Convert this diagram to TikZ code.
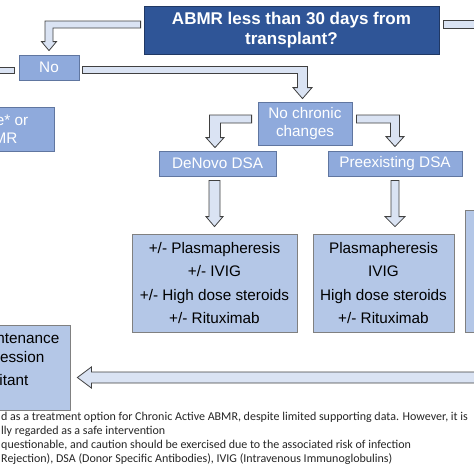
\documentclass[tikz,border=0pt]{standalone}
\usepackage{fontspec}
\setmainfont{Liberation Sans}
\newfontfamily\notefont{Carlito}
\usetikzlibrary{calc,positioning}

\definecolor{darkblue}{RGB}{47,85,151}
\definecolor{darkline}{RGB}{32,56,100}
\definecolor{midblue}{RGB}{143,170,220}
\definecolor{midline}{RGB}{96,118,160}
\definecolor{paleblue}{RGB}{180,199,231}
\definecolor{paleline}{RGB}{128,128,128}
\definecolor{arrowfill}{RGB}{218,227,243}
\definecolor{arrowline}{RGB}{64,64,64}
\definecolor{notegray}{RGB}{38,38,38}

\tikzset{
	qbox/.style={fill=darkblue, draw=darkline, line width=0.8pt, text=white, align=center, inner sep=0pt, font=\bfseries\fontsize{17}{20}\selectfont},
	midbox/.style={fill=midblue, draw=midline, line width=0.8pt, text=white, align=center, inner sep=0pt, font=\fontsize{15.3}{18}\selectfont},
	palebox/.style={fill=paleblue, draw=paleline, line width=0.8pt, text=black, align=center, inner sep=0pt, font=\fontsize{15.3}{23.3}\selectfont},
	bigarrow/.style={fill=arrowfill, draw=arrowline, line width=0.8pt, line join=miter},
	note/.style={align=left, inner sep=0pt, text=notegray, font=\notefont\fontsize{12}{14.1}\selectfont},
}

\begin{document}
\begin{tikzpicture}[x=1pt,y=-1pt]
			
			\clip (0,0) rectangle (474,474);
			\fill[white] (0,0) rectangle (474,474);
			
			% question and first split
			\node[qbox, minimum width=295pt, minimum height=48pt] (q30) at (291.5,30) {ABMR less than 30 days from\\transplant?};
			\node[midbox, minimum width=60pt, minimum height=25pt] (no) at (49,67.5) {No};
			\coordinate (qright) at (490,24);
			\coordinate (noleft) at (-20,67.5);
			
			\node[midbox, minimum width=94pt, minimum height=43pt] (nochronic) at (305,123.5) {No chronic\\changes};
			\node[midbox, minimum width=117pt, minimum height=25pt] (denovo) at (217.5,163.5) {DeNovo DSA};
			\node[midbox, minimum width=134pt, minimum height=25pt] (preex) at (395,163.5) {Preexisting DSA};
			
			% treatment boxes
			\node[palebox, minimum width=165pt, minimum height=98pt] (treatA) at (214.5,283) {+/- Plasmapheresis\\+/- IVIG\\+/- High dose steroids\\+/- Rituximab};
			\node[palebox, minimum width=141pt, minimum height=98pt] (treatB) at (383.5,283) {Plasmapheresis\\IVIG\\High dose steroids\\+/- Rituximab};
			\node[palebox, minimum width=60pt, minimum height=122pt] (rightbox) at (495,271) {};
			
			% boxes cut by the left edge
			\node[midbox, minimum width=114pt, minimum height=44pt] (chronicbox) at (-3,129) {};
			\node[anchor=base east, inner sep=0pt, text=white, font=\fontsize{15.3}{18}\selectfont] (chronicA) at (28.5,125.5) {e* or};
			\node[anchor=base east, inner sep=0pt, text=white, font=\fontsize{15.3}{18}\selectfont] (chronicB) at (17.5,143.5) {MR};
			
			\node[palebox, minimum width=150pt, minimum height=85pt] (maintbox) at (-5,367.5) {};
			\node[anchor=base east, inner sep=0pt, font=\fontsize{15.3}{18}\selectfont] (maintA) at (59.5,343) {ntenance};
			\node[anchor=base east, inner sep=0pt, font=\fontsize{15.3}{18}\selectfont] (maintB) at (44.5,362) {ession};
			\node[anchor=base east, inner sep=0pt, font=\fontsize{15.3}{18}\selectfont] (maintC) at (28.5,385) {itant};
			\coordinate (bright) at (490,377.5);
			
			% block arrows
			\filldraw[bigarrow] ($(q30.west)+(-3,-9)$) -| ($(no.north)+(-4,-13)$) -- ++(-3.5,0) -- ($(no.north)+(0,-4)$) -- ++(7.5,-9) -- ++(-3.5,0) |- ($(q30.west)+(-3,-2)$) -- cycle;
			\filldraw[bigarrow] ($(q30.east)+(4,-10)$) rectangle ($(qright)+(0,4)$);
			\filldraw[bigarrow] ($(no.west)+(-4,-0.5)$) rectangle ($(noleft)+(0,6)$);
			
			\filldraw[bigarrow] ($(no.east)+(3,-1)$) -| ($(nochronic.north)+(2.5,-14)$) -- ++(4.5,0) -- ($(nochronic.north)+(-2.5,-3)$) -- ++(-9.5,-11) -- ++(4.5,0) |- ($(no.east)+(3,6)$) -- cycle;
			
			\filldraw[bigarrow] ($(nochronic.west)+(-6,-8.5)$) -| ($(denovo.north)+(-8,-13)$) -- ++(-3.5,0) -- ($(denovo.north)+(-2.5,-3)$) -- ++(9,-10) -- ++(-3.5,0) |- ($(nochronic.west)+(-6,-0.5)$) -- cycle;
			\filldraw[bigarrow] ($(nochronic.east)+(4,-8.5)$) -| ($(preex.north)+(4.5,-14)$) -- ++(4.5,0) -- ($(preex.north)+(0,-4)$) -- ++(-9,-10) -- ++(4.5,0) |- ($(nochronic.east)+(4,-0.5)$) -- cycle;
			
			\filldraw[bigarrow] ($(denovo.south -| treatA.north)+(-5.5,4)$) -- ($(treatA.north)+(-5.5,-17)$) -- ++(-3,0) -- ($(treatA.north)+(0,-7)$) -- ++(8.5,-10) -- ++(-3,0) -- ($(denovo.south -| treatA.north)+(5.5,4)$) -- cycle;
			\filldraw[bigarrow] ($(preex.south)+(-4,4)$) -- ($(preex.south |- treatB.north)+(-4,-17)$) -- ++(-6,0) -- ($(preex.south |- treatB.north)+(0,-7)$) -- ++(10,-10) -- ++(-6,0) -- ($(preex.south)+(4,4)$) -- cycle;
			
			\filldraw[bigarrow] ($(maintbox.east)+(7,10)$) -- ++(14,-10.5) -- ++(0,5) -- ($(bright)+(0,-5.5)$) -- ($(bright)+(0,5.5)$) -- ($(maintbox.east)+(21,15.5)$) -- ++(0,5) -- cycle;
			
			% footnotes
			\node[note, anchor=north west] (notes) at (1,412) {d as a treatment option for Chronic Active ABMR, despite limited supporting data. However, it is\\lly regarded as a safe intervention\\questionable, and caution should be exercised due to the associated risk of infection\\Rejection), DSA (Donor Specific Antibodies), IVIG (Intravenous Immunoglobulins)};
			
		\end{tikzpicture}
\end{document}
